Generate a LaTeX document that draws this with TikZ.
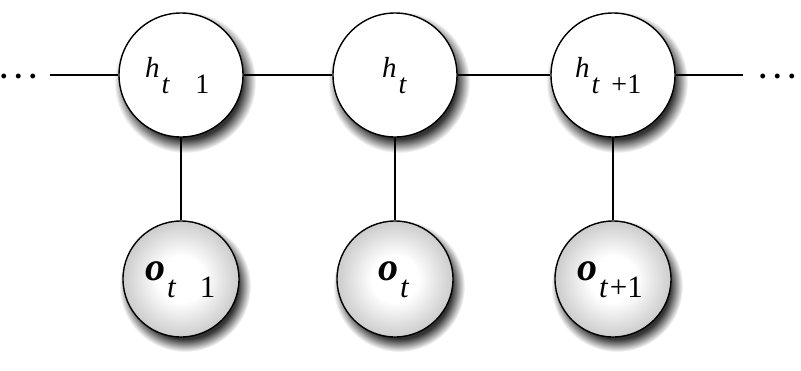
\documentclass[tikz,border=0pt]{standalone}
\usepackage{fontspec}
\setmainfont{Liberation Serif}
\pgfdeclareradialshading{nodeshadow}{\pgfpointorigin}{color(0bp)=(black!85); color(20bp)=(black!80); color(25bp)=(white); color(50bp)=(white)}
\pgfdeclareradialshading{obsshade}{\pgfpointorigin}{color(0bp)=(white); color(10bp)=(white); color(25bp)=(black!20); color(50bp)=(black!20)}
\newcommand\hfnt{\fontsize{29}{29}\selectfont\itshape}
\newcommand\hsub{\fontsize{28}{28}\selectfont}
\newcommand\ofnt{\fontsize{40}{40}\selectfont\bfseries\itshape}
\newcommand\osub{\fontsize{31}{31}\selectfont}
\tikzset{
  hid/.style={circle, draw, line width=1.4pt, fill=white, minimum size=124pt, inner sep=0pt},
  obs/.style={circle, draw, line width=1.4pt, shading=obsshade, minimum size=116pt, inner sep=0pt},
  conn/.style={line width=1.2pt},
  shad/.style={shading=nodeshadow},
  lab/.style={anchor=base west, inner sep=0pt},
  dots/.style={anchor=base west, inner sep=0pt, font=\fontsize{30}{30}\selectfont\bfseries}
}
\begin{document}
\begin{tikzpicture}[x=1pt,y=-1pt]
\useasboundingbox (0,0) rectangle (801,370);
% shadows
\foreach \x in {181,395,613} {
  \shade[shad] (\x+4,75+7) circle (71);
  \shade[shad] (\x+4,279+7) circle (66);
}
\node[dots] (ld) at (0,78) {.\hspace{7pt}.\hspace{7pt}.};
\node[dots] (rd) at (759,78) {.\hspace{7pt}.\hspace{7pt}.};
\coordinate (lend) at (50,75);
\coordinate (rend) at (743,75);
\node[hid] (h1) at (181,75) {};
\node[hid] (h2) at (395,75) {};
\node[hid] (h3) at (613,75) {};
\node[obs] (o1) at (181,279) {};
\node[obs] (o2) at (395,279) {};
\node[obs] (o3) at (613,279) {};
\draw[conn] (lend) -- (h1) -- (h2) -- (h3) -- (rend);
\draw[conn] (h1) -- (o1);
\draw[conn] (h2) -- (o2);
\draw[conn] (h3) -- (o3);
% labels
\node[lab] (lh1) at (145,77) {\hfnt h\hspace{2pt}\raisebox{-16pt}{\hsub\itshape t\hspace{26pt}\upshape 1}};
\node[lab] (lh2) at (382,77) {\hfnt h\hspace{2pt}\raisebox{-16pt}{\hsub\itshape t}};
\node[lab] (lh3) at (575,77) {\hfnt h\hspace{2pt}\raisebox{-16pt}{\hsub\itshape t\hspace{12pt}\upshape +1}};
\node[lab] (lo1) at (145,280) {\ofnt o\hspace{2pt}\raisebox{-17pt}{\osub\mdseries\itshape t\hspace{24pt}\upshape 1}};
\node[lab] (lo2) at (378,280) {\ofnt o\hspace{2pt}\raisebox{-17pt}{\osub\mdseries\itshape t}};
\node[lab] (lo3) at (577,280) {\ofnt o\hspace{2pt}\raisebox{-17pt}{\osub\mdseries\itshape t\hspace{2pt}\upshape +1}};
\end{tikzpicture}
\end{document}
